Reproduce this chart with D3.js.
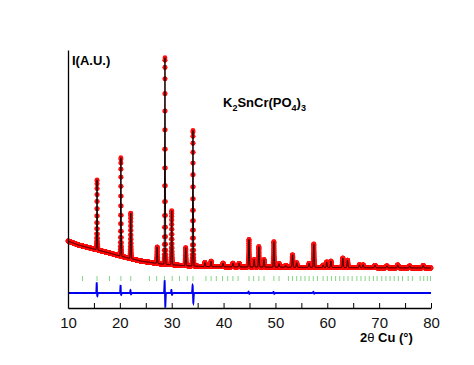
<!DOCTYPE html>
<html>
<head>
<meta charset="utf-8">
<script src="https://cdn.jsdelivr.net/npm/d3@7"></script>
<style>
  html, body { margin: 0; padding: 0; background: #fff; overflow: hidden; }
  svg { display: block; }
  text { font-family: "Liberation Sans", Arial, sans-serif; }
</style>
</head>
<body>
<svg id="svg1" width="474" height="365"></svg>
<script>
// ---- data ----
const xTicks = [10, 20, 30, 40, 50, 60, 70, 80];
const xMinorTicks = [15, 25, 35, 45, 55, 65, 75];

// background (2theta, intensity)
const bgPos = [10, 12, 15, 18, 20, 24, 28, 32, 36, 45, 60, 80];
const bgInt = [2042, 1875, 1708, 1542, 1417, 1208, 1083, 1021, 979, 958, 938, 917];

// reflections seen in the pattern (2theta, height above background)
const peakPos = [15.6, 20.2, 22.1, 27.2, 28.7, 30.0, 32.7, 34.1, 36.4, 37.6, 39.9, 41.8, 43.0,
  44.9, 45.9, 46.8, 47.8, 49.7, 50.7, 52.0, 53.3, 54.1, 56.5, 57.4, 59.2, 59.9, 60.7,
  63.0, 63.9, 66.2, 66.9, 69.2, 71.5, 73.6, 75.9, 78.5];
const peakHeight = [2917, 4104, 1896, 688, 8604, 2250, 750, 5646, 170, 230, 150, 150, 150,
  1146, 313, 854, 313, 1063, 150, 80, 520, 190, 170, 980, 100, 230, 270,
  400, 310, 120, 120, 100, 80, 120, 80, 100];

// Bragg positions (green marks)
const braggPos = [12.8, 15.6, 18.0, 20.2, 22.1, 25.7, 27.1, 28.6, 30.1, 31.5, 33.0, 34.1,
  36.6, 37.6, 38.6, 39.8, 40.8, 41.8, 42.8, 44.9, 45.8, 46.8, 47.8, 49.7, 50.7,
  52.5, 53.3, 54.1, 54.9, 55.7, 56.5, 57.3, 58.1, 59.2, 60.0, 60.8, 61.6, 62.4, 63.2,
  64.0, 64.8, 65.7, 66.5, 67.3, 68.1, 68.9, 69.6, 70.5, 71.3, 72.1, 72.9, 73.7, 74.5,
  75.6, 76.4, 77.9, 78.6, 79.3, 79.9];

// difference curve spikes (2theta, swing up, swing down)
const diffPos  = [15.6, 20.2, 22.1, 28.7, 30.0, 34.1, 44.9, 49.7, 57.4];
const diffUp   = [440, 330, 120, 500, 130, 330, 60, 50, 50];
const diffDown = [130, 80, 60, 580, 80, 420, 40, 40, 30];

// ---- layout ----
const svg1 = d3.select('#svg1');
const width1 = +svg1.attr('width');
const height1 = +svg1.attr('height');
const margin = { top: 50, right: 43, bottom: 57, left: 68 };
const innerWidth = width1 - margin.left - margin.right;
const innerHeight = height1 - margin.top - margin.bottom;

const xScale = d3.scaleLinear().domain([10, 80]).range([0, innerWidth]);
const yScale = d3.scaleLinear().domain([-750, 10000]).range([innerHeight, 0]);
const bgScale = d3.scaleLinear().domain(bgPos).range(bgInt);

const sigAt = x => (0.13 + 0.0012 * (x - 10)) / 2.3548; // peaks get a bit wider at high angle
const diffOffset = -125;

const steps = d3.range(10, 80.0001, 0.01);
const profile = steps.map(x => {
  let y = bgScale(x);
  let dif = 0;
  const sig = sigAt(x);
  peakPos.forEach((p, i) => {
    const d = x - p;
    if (Math.abs(d) < 1) y += peakHeight[i] * Math.exp(-d * d / (2 * sig * sig));
  });
  diffPos.forEach((p, i) => {
    const d = (x - p) / sig;
    if (Math.abs(d) < 8) {
      const g = -d * Math.exp(0.5 - d * d / 2);
      dif += g > 0 ? g * diffUp[i] : g * diffDown[i];
    }
  });
  return { x: x, y: y, diff: dif };
});

const a = svg1.append('g')
  .attr('transform', `translate(${margin.left}, ${margin.top})`);

// observed points
a.append('g').selectAll('circle').data(profile)
  .join('circle')
    .attr('cx', d => xScale(d.x))
    .attr('cy', d => yScale(d.y))
    .attr('r', 2.4)
    .attr('fill', '#ff1010');

// calculated line
a.append('path').datum(profile)
  .attr('fill', 'none')
  .attr('stroke', '#1a0000')
  .attr('stroke-width', 1)
  .attr('d', d3.line().x(d => xScale(d.x)).y(d => yScale(d.y)));

// bragg marks
a.append('g').selectAll('line').data(braggPos)
  .join('line')
    .attr('x1', d => xScale(d)).attr('x2', d => xScale(d))
    .attr('y1', yScale(375)).attr('y2', yScale(583))
    .attr('stroke', '#86d486')
    .attr('stroke-width', 1);

// difference curve
a.append('path').datum(profile)
  .attr('fill', 'none')
  .attr('stroke', '#0000ee')
  .attr('stroke-width', 1.8)
  .attr('d', d3.line().x(d => xScale(d.x)).y(d => yScale(diffOffset + d.diff)));

// x axis, ticks pointing inward
const xAxis = d3.axisBottom(xScale)
  .tickValues(xTicks)
  .tickFormat(d3.format('d'))
  .tickSizeInner(-5)
  .tickSizeOuter(0)
  .tickPadding(9);

const xAxisA = a.append('g').call(xAxis)
  .attr('transform', `translate(0, ${innerHeight})`);
xAxisA.select('.domain').attr('stroke-width', 1.3);
xAxisA.selectAll('text')
  .attr('font-size', 15)
  .attr('font-family', '"Liberation Sans", Arial, sans-serif')
  .attr('fill', '#111');

const xMinorA = a.append('g')
  .call(d3.axisBottom(xScale).tickValues(xMinorTicks).tickFormat('').tickSizeInner(-5).tickSizeOuter(0))
  .attr('transform', `translate(0, ${innerHeight})`);
xMinorA.select('.domain').remove();
xMinorA.selectAll('text').remove();

// y axis: plain line
const yAxisA = a.append('g').call(d3.axisLeft(yScale).tickValues([]).tickSizeOuter(0));
yAxisA.select('.domain').attr('stroke-width', 1.3);

// labels
svg1.append('text')
  .attr('x', 72).attr('y', 65)
  .attr('font-size', 13).attr('font-weight', 'bold')
  .text('I(A.U.)');

const xl = svg1.append('text')
  .attr('x', 360).attr('y', 342)
  .attr('font-size', 13).attr('font-weight', 'bold');
xl.append('tspan').text('2');
xl.append('tspan').attr('font-weight', 'normal').text('θ');
xl.append('tspan').text(' Cu (°)');

const title = svg1.append('text')
  .attr('x', 223).attr('y', 107)
  .attr('font-size', 13).attr('font-weight', 'bold');
title.append('tspan').text('K');
title.append('tspan').attr('font-size', 9).attr('dy', 4).text('2');
title.append('tspan').attr('dy', -4).text('SnCr(PO');
title.append('tspan').attr('font-size', 9).attr('dy', 4).text('4');
title.append('tspan').attr('dy', -4).text(')');
title.append('tspan').attr('font-size', 9).attr('dy', 4).text('3');
</script>
</body>
</html>
